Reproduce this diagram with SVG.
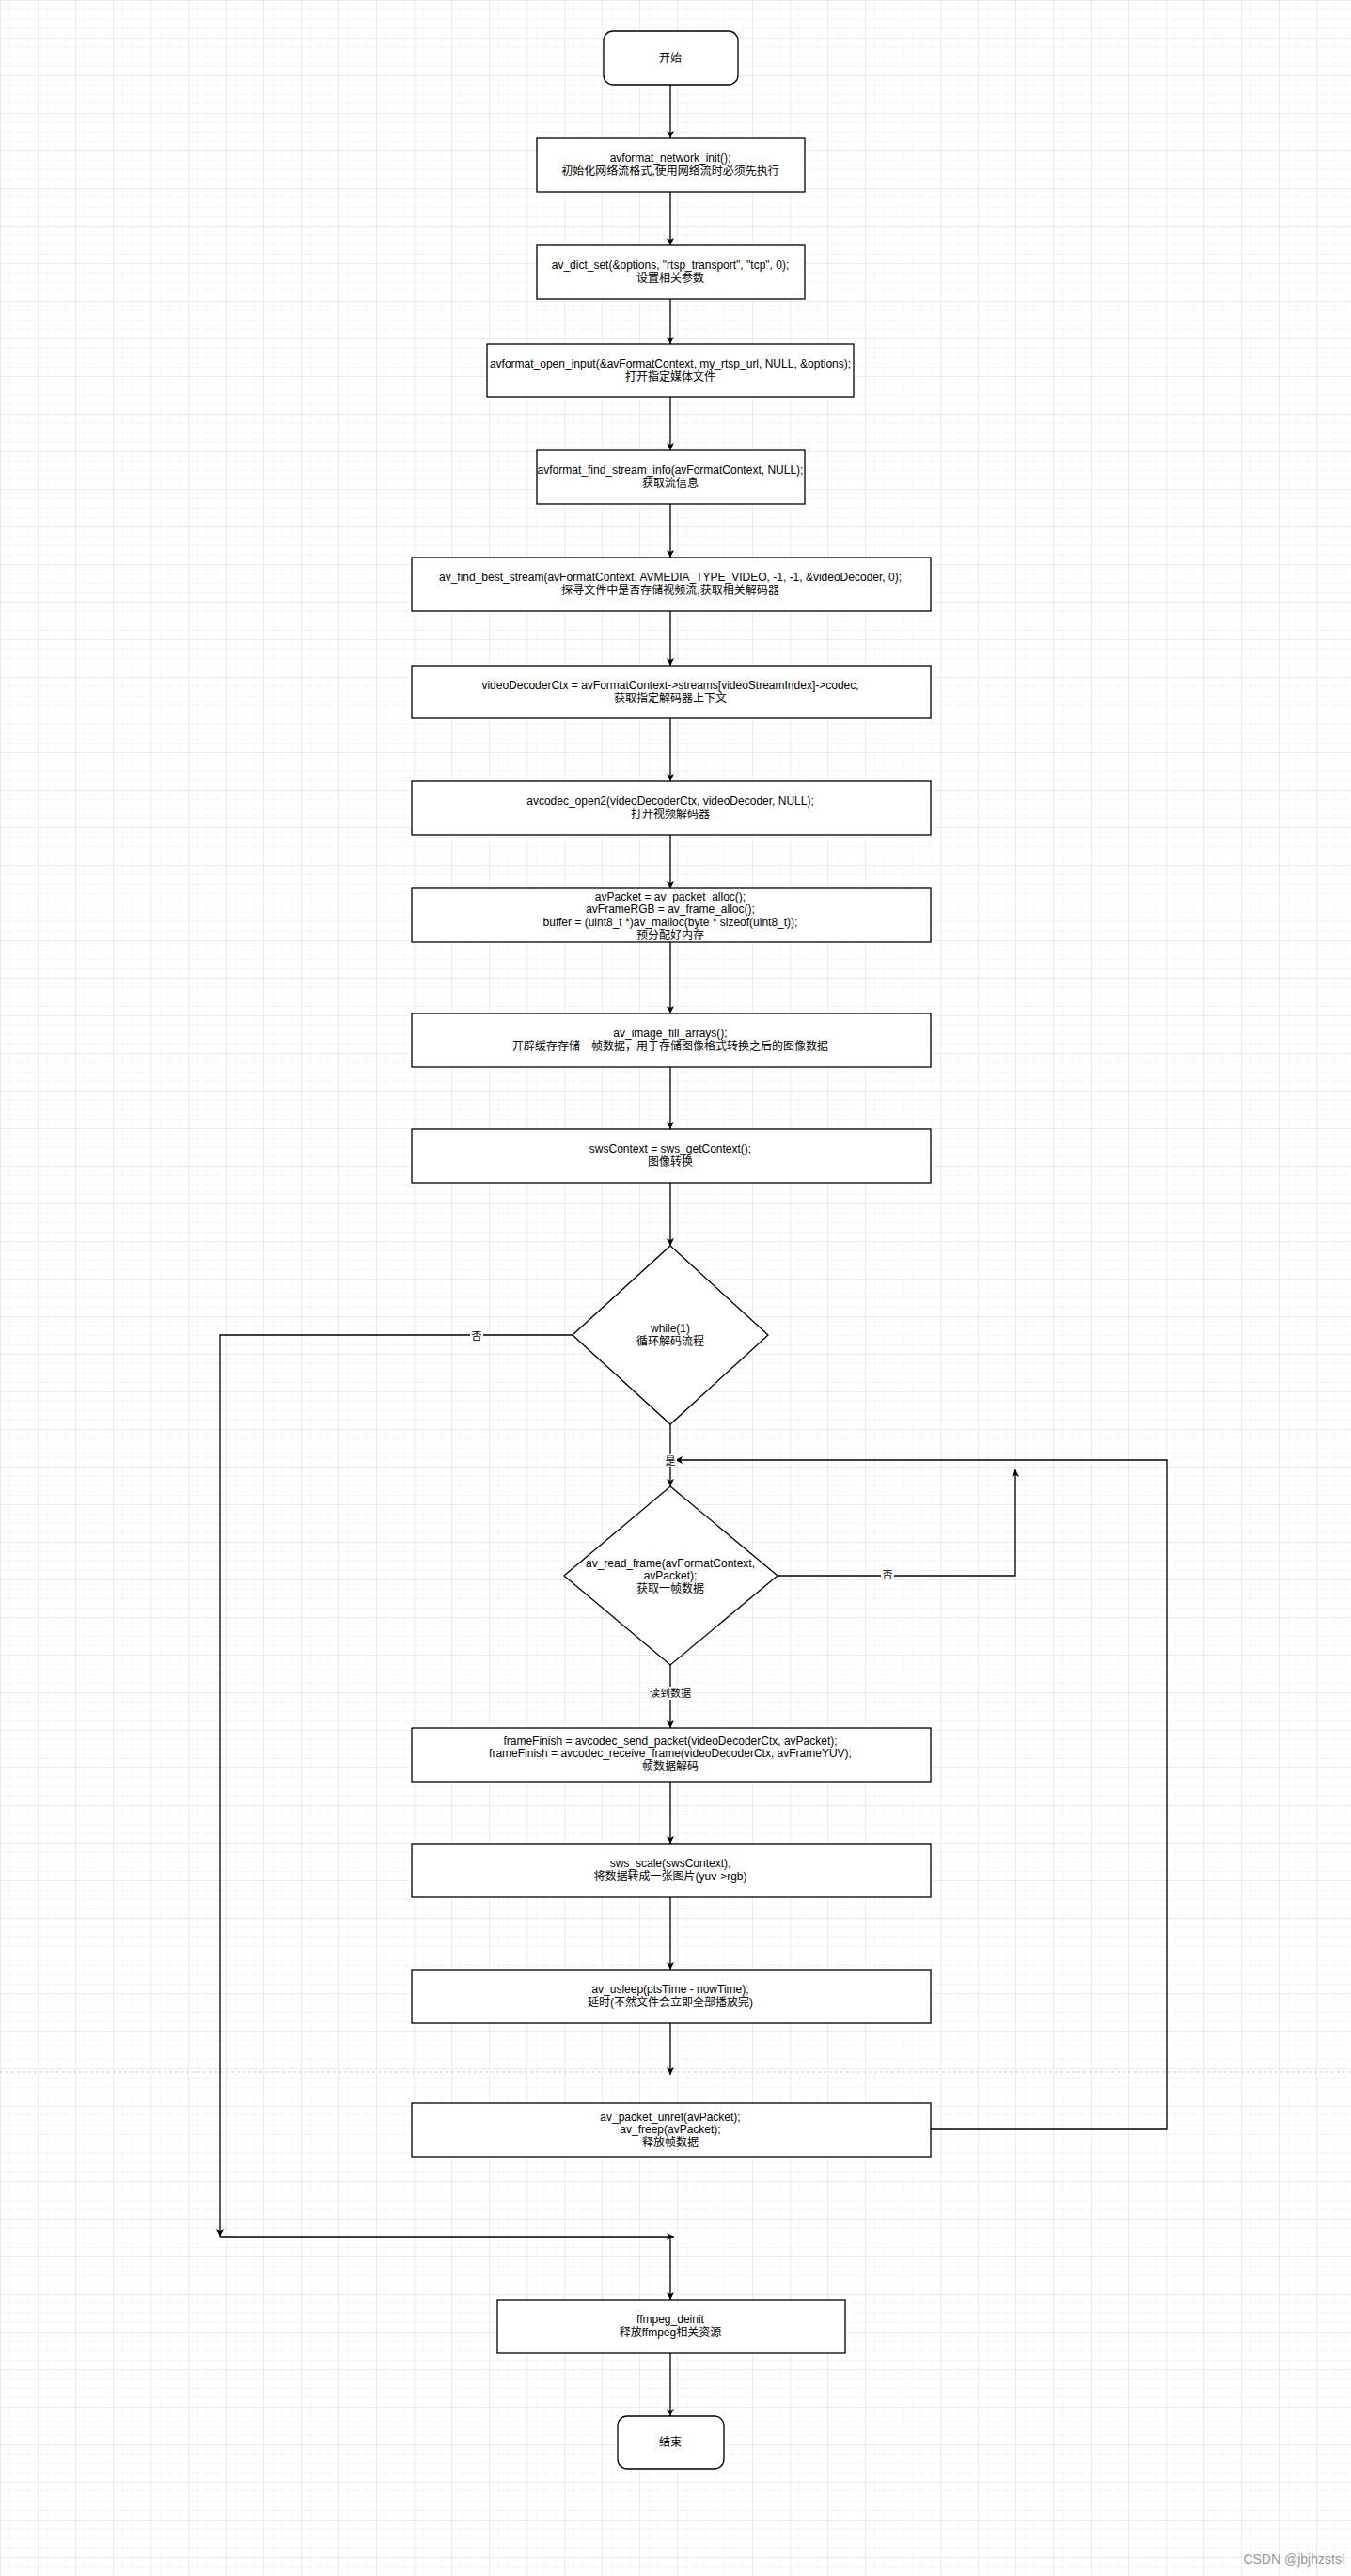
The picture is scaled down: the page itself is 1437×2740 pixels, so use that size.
<svg xmlns="http://www.w3.org/2000/svg" width="1437" height="2740" viewBox="0 0 1437 2740">
<defs>
<pattern id="g1" width="10" height="10" patternUnits="userSpaceOnUse"><path d="M10 0H0V10" fill="none" stroke="#f0f0f0" stroke-width="1"/></pattern>
<pattern id="g2" width="40" height="40" patternUnits="userSpaceOnUse"><rect width="40" height="40" fill="url(#g1)"/><path d="M40 0H0V40" fill="none" stroke="#e2e2e2" stroke-width="1"/></pattern>
<marker id="a" markerWidth="10" markerHeight="10" refX="9" refY="5" orient="auto" markerUnits="userSpaceOnUse"><path d="M1 1L9 5L1 9L3 5Z" fill="#000"/></marker>
</defs>
<style>
.n{fill:#fff;stroke:#000;stroke-width:1.3}
.t{font-family:"Liberation Sans","Noto Sans CJK SC",sans-serif;font-size:12px;fill:#000;text-anchor:middle}
.c{fill:none;stroke:#000;stroke-width:1.3;marker-end:url(#a)}
.l{fill:none;stroke:#000;stroke-width:1.3}
.lb{font-family:"Liberation Sans","Noto Sans CJK SC",sans-serif;font-size:11px;fill:#000;text-anchor:middle}
</style>
<rect width="1437" height="2740" fill="#fff"/>
<rect width="1437" height="2740" fill="url(#g2)"/>
<line x1="0" y1="2204" x2="1437" y2="2204" stroke="#c8c8c8" stroke-dasharray="3,3"/>
<g id="connectors">
<path class="c" d="M713 90V147"/>
<path class="c" d="M713 204V261"/>
<path class="c" d="M713 318V366"/>
<path class="c" d="M713 422V479"/>
<path class="c" d="M713 536V593"/>
<path class="c" d="M713 650V708"/>
<path class="c" d="M713 764V831"/>
<path class="c" d="M713 888V945"/>
<path class="c" d="M713 1002V1078"/>
<path class="c" d="M713 1135V1201"/>
<path class="c" d="M713 1258V1325"/>
<path class="c" d="M713 1515V1581"/>
<path class="c" d="M609 1420H234V2379"/>
<rect x="500" y="1414" width="14" height="13" fill="#fff"/>
<text class="lb" x="507" y="1425">否</text>
<path class="c" d="M827 1676H1080V1563"/>
<rect x="937" y="1668" width="14" height="13" fill="#fff"/>
<text class="lb" x="944" y="1679">否</text>
<path class="c" d="M990 2265H1241V1553H718"/>
<rect x="706" y="1547" width="14" height="13" fill="#fff"/>
<text class="lb" x="713" y="1558">是</text>
<path class="c" d="M713 1771V1838"/>
<rect x="691" y="1794" width="44" height="14" fill="#fff"/>
<text class="lb" x="713" y="1805">读到数据</text>
<path class="c" d="M713 1895V1961"/>
<path class="c" d="M713 2018V2095"/>
<path class="c" d="M713 2152V2207"/>
<path class="c" d="M234 2379H717"/>
<path class="c" d="M713 2379V2446"/>
<path class="c" d="M713 2503V2570"/>
</g>
<g id="start"><rect class="n" x="642" y="33" width="143" height="57" rx="10"/><text class="t" x="713" y="66">开始</text></g>
<g id="n1"><rect class="n" x="571" y="147" width="285" height="57"/><text class="t" x="713" y="172">avformat_network_init();</text><text class="t" x="713" y="186">初始化网络流格式,使用网络流时必须先执行</text></g>
<g id="n2"><rect class="n" x="571" y="261" width="285" height="57"/><text class="t" x="713" y="286">av_dict_set(&amp;options, "rtsp_transport", "tcp", 0);</text><text class="t" x="713" y="300">设置相关参数</text></g>
<g id="n3"><rect class="n" x="518" y="366" width="390" height="56"/><text class="t" x="713" y="391">avformat_open_input(&amp;avFormatContext, my_rtsp_url, NULL, &amp;options);</text><text class="t" x="713" y="405">打开指定媒体文件</text></g>
<g id="n4"><rect class="n" x="571" y="479" width="285" height="57"/><text class="t" x="713" y="504">avformat_find_stream_info(avFormatContext, NULL);</text><text class="t" x="713" y="518">获取流信息</text></g>
<g id="n5"><rect class="n" x="438" y="593" width="552" height="57"/><text class="t" x="713" y="618">av_find_best_stream(avFormatContext, AVMEDIA_TYPE_VIDEO, -1, -1, &amp;videoDecoder, 0);</text><text class="t" x="713" y="632">探寻文件中是否存储视频流,获取相关解码器</text></g>
<g id="n6"><rect class="n" x="438" y="708" width="552" height="56"/><text class="t" x="713" y="733">videoDecoderCtx = avFormatContext-&gt;streams[videoStreamIndex]-&gt;codec;</text><text class="t" x="713" y="747">获取指定解码器上下文</text></g>
<g id="n7"><rect class="n" x="438" y="831" width="552" height="57"/><text class="t" x="713" y="856">avcodec_open2(videoDecoderCtx, videoDecoder, NULL);</text><text class="t" x="713" y="870">打开视频解码器</text></g>
<g id="n8"><rect class="n" x="438" y="945" width="552" height="57"/><text class="t" x="713" y="958">avPacket = av_packet_alloc();</text><text class="t" x="713" y="971">avFrameRGB = av_frame_alloc();</text><text class="t" x="713" y="985">buffer = (uint8_t *)av_malloc(byte * sizeof(uint8_t));</text><text class="t" x="713" y="999">预分配好内存</text></g>
<g id="n9"><rect class="n" x="438" y="1078" width="552" height="57"/><text class="t" x="713" y="1103">av_image_fill_arrays();</text><text class="t" x="713" y="1117">开辟缓存存储一帧数据，用于存储图像格式转换之后的图像数据</text></g>
<g id="n10"><rect class="n" x="438" y="1201" width="552" height="57"/><text class="t" x="713" y="1226">swsContext = sws_getContext();</text><text class="t" x="713" y="1240">图像转换</text></g>
<g id="d1"><path class="n" d="M713 1325L817 1420L713 1515L609 1420Z"/><text class="t" x="713" y="1417">while(1)</text><text class="t" x="713" y="1431">循环解码流程</text></g>
<g id="d2"><path class="n" d="M713 1581L827 1676L713 1771L600 1676Z"/><text class="t" x="713" y="1667">av_read_frame(avFormatContext,</text><text class="t" x="713" y="1680">avPacket);</text><text class="t" x="713" y="1694">获取一帧数据</text></g>
<g id="n11"><rect class="n" x="438" y="1838" width="552" height="57"/><text class="t" x="713" y="1856">frameFinish = avcodec_send_packet(videoDecoderCtx, avPacket);</text><text class="t" x="713" y="1869">frameFinish = avcodec_receive_frame(videoDecoderCtx, avFrameYUV);</text><text class="t" x="713" y="1883">帧数据解码</text></g>
<g id="n12"><rect class="n" x="438" y="1961" width="552" height="57"/><text class="t" x="713" y="1986">sws_scale(swsContext);</text><text class="t" x="713" y="2000">将数据转成一张图片(yuv-&gt;rgb)</text></g>
<g id="n13"><rect class="n" x="438" y="2095" width="552" height="57"/><text class="t" x="713" y="2120">av_usleep(ptsTime - nowTime);</text><text class="t" x="713" y="2134">延时(不然文件会立即全部播放完)</text></g>
<g id="n14"><rect class="n" x="438" y="2237" width="552" height="57"/><text class="t" x="713" y="2256">av_packet_unref(avPacket);</text><text class="t" x="713" y="2269">av_freep(avPacket);</text><text class="t" x="713" y="2283">释放帧数据</text></g>
<g id="n15"><rect class="n" x="529" y="2446" width="370" height="57"/><text class="t" x="713" y="2471">ffmpeg_deinit</text><text class="t" x="713" y="2485">释放ffmpeg相关资源</text></g>
<g id="end"><rect class="n" x="657" y="2570" width="113" height="56" rx="10"/><text class="t" x="713" y="2602">结束</text></g>
<text x="1430" y="2727" font-family="Liberation Sans, sans-serif" font-size="14" fill="#999" text-anchor="end">CSDN @jbjhzstsl</text>
</svg>
